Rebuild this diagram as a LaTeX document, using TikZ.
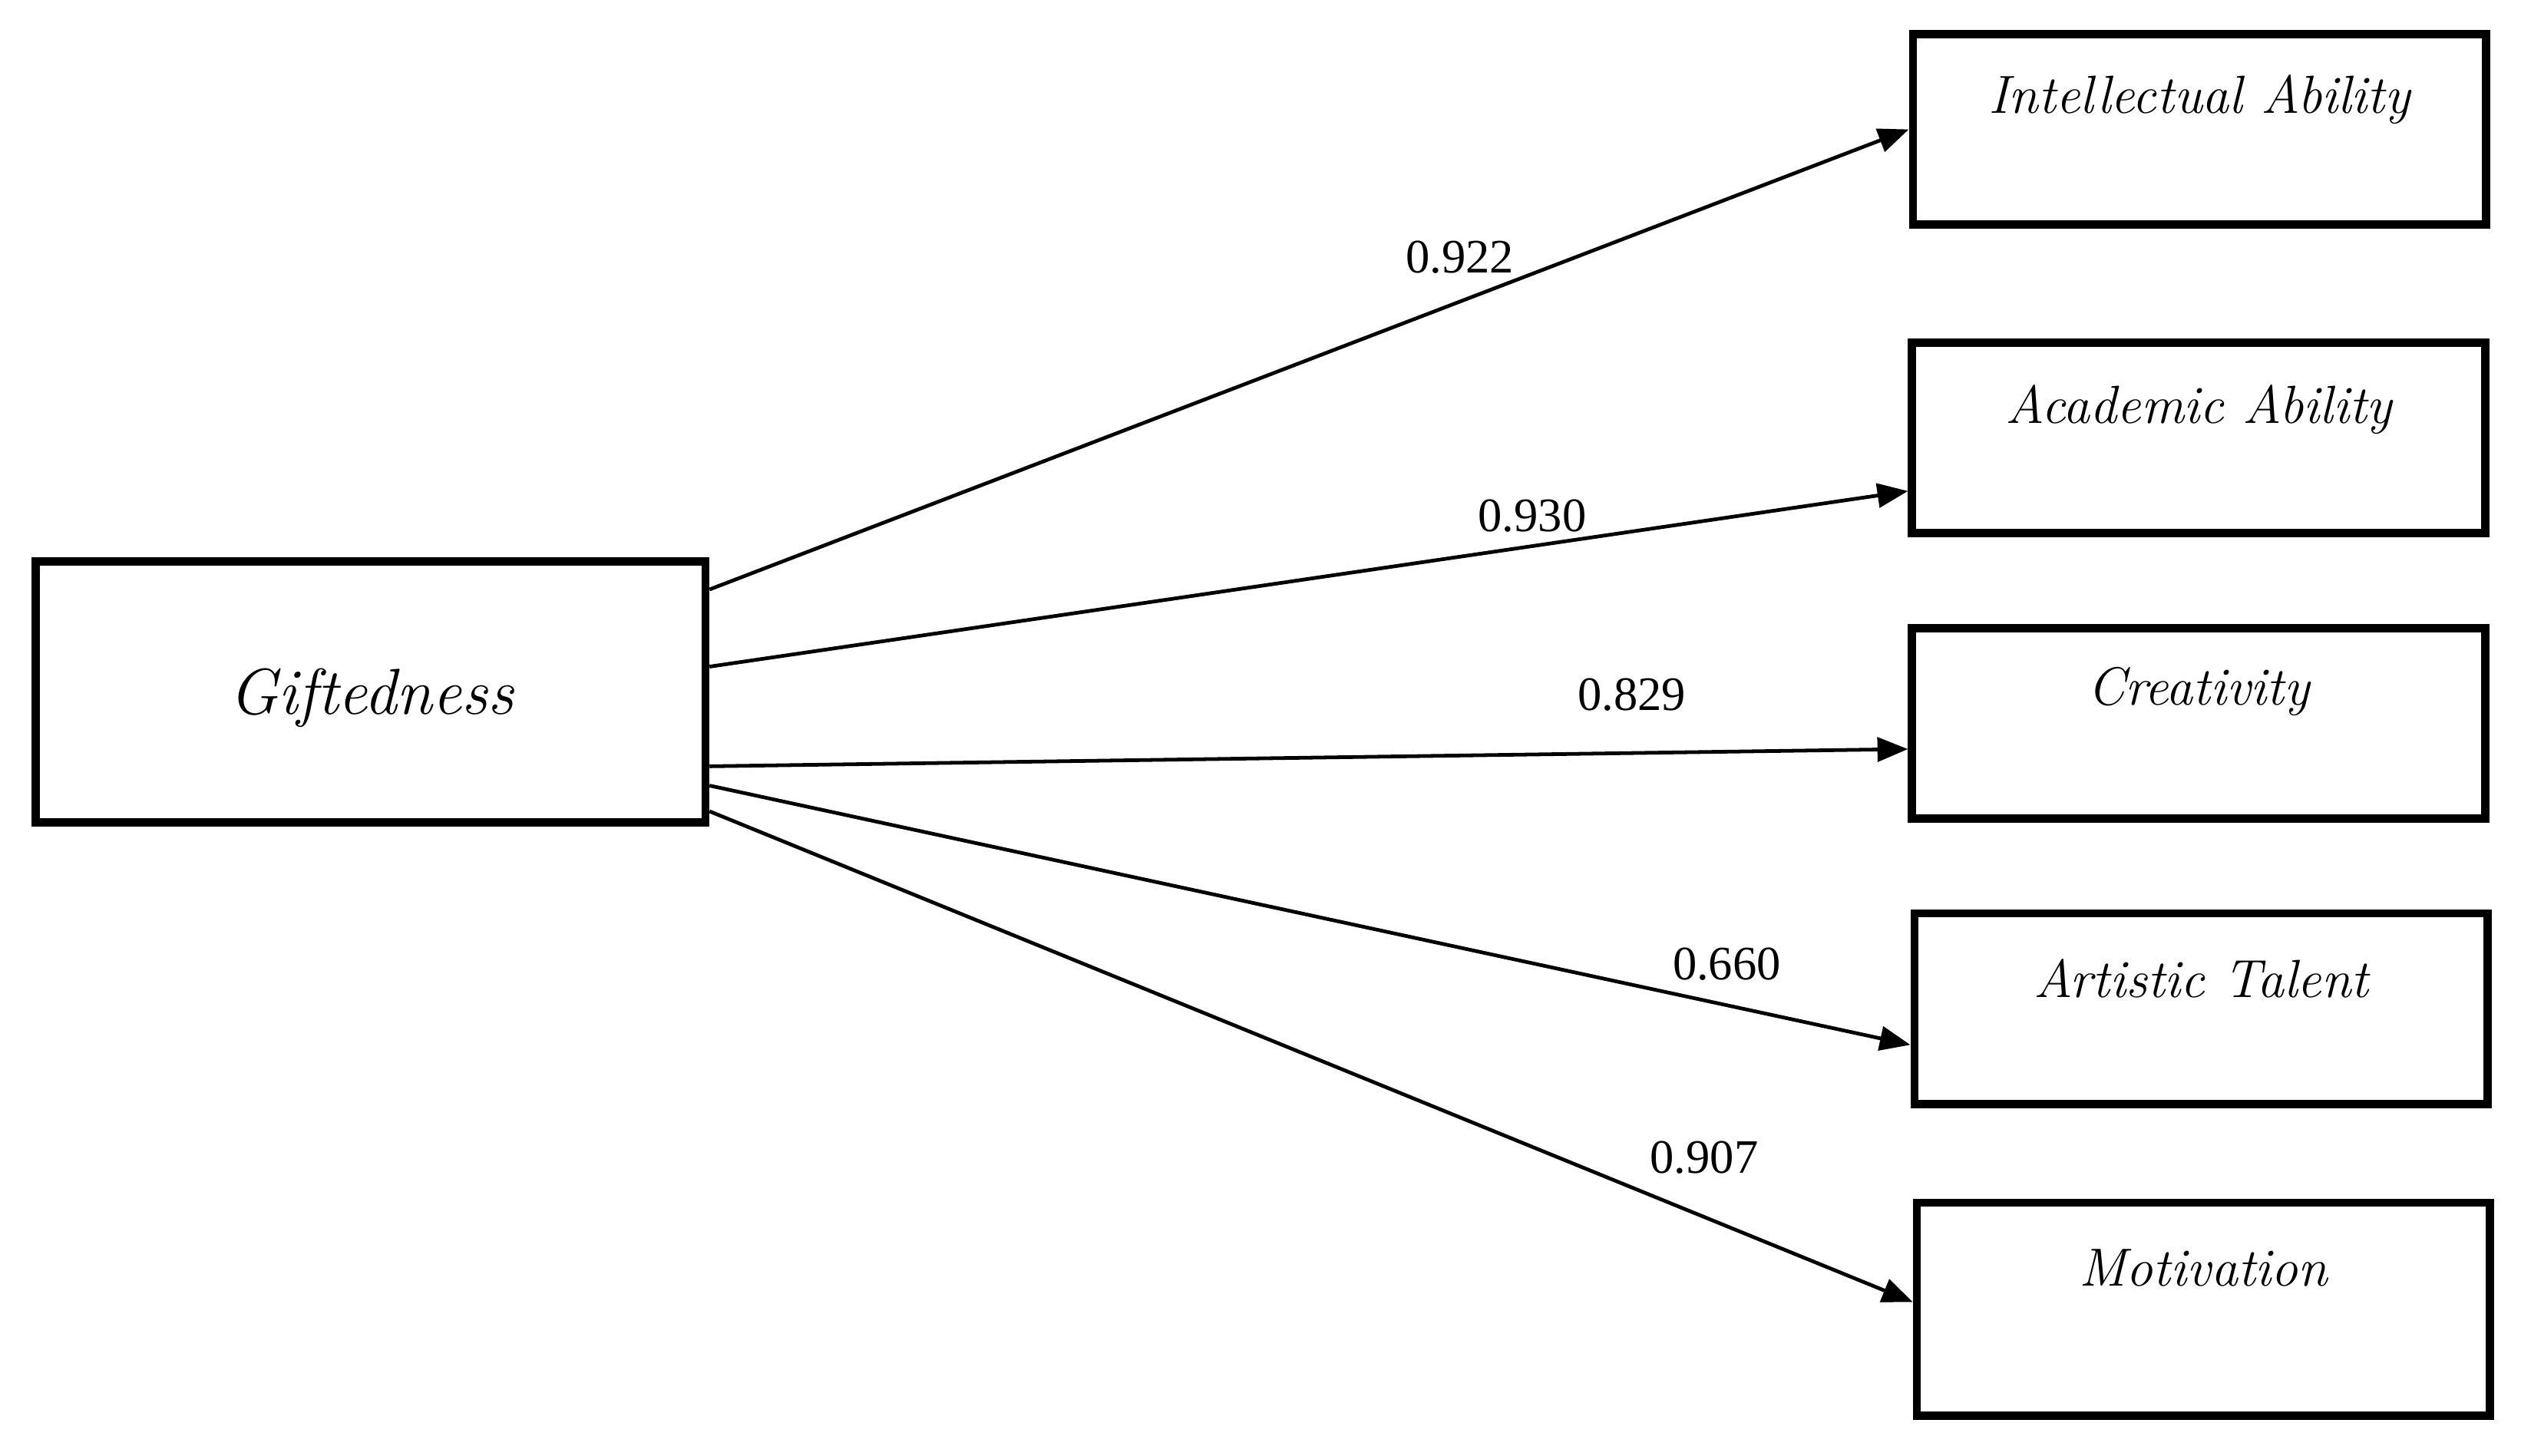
\documentclass[tikz,border=0pt]{standalone}
\usepackage{fontspec}
\usetikzlibrary{arrows.meta,positioning}
\newfontfamily\numfont{Liberation Serif}

\tikzset{
  factor/.style={draw, line width=2.9pt, inner sep=0pt, minimum width=7.13cm, minimum height=2.37cm},
  factortext/.style={font=\fontsize{19}{22}\selectfont\itshape, inner sep=0pt},
  loading/.style={font=\numfont\fontsize{17}{20}\selectfont, inner sep=0pt},
  path/.style={line width=1.3pt, -{Triangle[length=0.38cm,width=0.3cm]}}
}

\begin{document}
\begin{tikzpicture}
                \useasboundingbox (0,0) rectangle (31.36,18.106);

                % latent factor
                \node[factor, minimum width=8.33cm, minimum height=3.25cm] (gift) at (4.61,9.496) {};
                \node[factortext, font=\fontsize{23}{26}\selectfont\itshape] (gift-t) at (4.62,9.426) {Giftedness};

                % indicators
                \node[factor] (intel) at (27.36,16.496) {};
                \node[factor] (acad) at (27.35,12.656) {};
                \node[factor] (creat) at (27.35,9.106) {};
                \node[factor] (art) at (27.38,5.556) {};
                \node[factor, minimum height=2.65cm] (motiv) at (27.41,1.816) {};

                \node[factortext] (intel-t) at ([yshift=-0.86cm]intel.north) {Intellectual Ability};
                \node[factortext] (acad-t) at ([yshift=-0.88cm]acad.north) {Academic Ability};
                \node[factortext] (creat-t) at ([yshift=-0.84cm]creat.north) {Creativity};
                \node[factortext] (art-t) at ([yshift=-0.86cm]art.north) {Artistic Talent};
                \node[factortext] (motiv-t) at ([yshift=-0.86cm]motiv.north) {Motivation};

                % paths
                \draw[path] ([yshift=-0.40cm]gift.north east) -- (intel.west);
                \draw[path] ([yshift=-1.36cm]gift.north east) -- ([yshift=-0.66cm]acad.west);
                \draw[path] ([yshift=-2.60cm]gift.north east) -- ([yshift=-0.32cm]creat.west);
                \draw[path] ([yshift=-2.84cm]gift.north east) -- ([yshift=-0.45cm]art.west);
                \draw[path] ([yshift=-3.16cm]gift.north east) -- ([yshift=0.09cm]motiv.west);

                % loadings
                \node[loading] (l-intel) at (18.16,14.906) {0.922};
                \node[loading] (l-acad) at (19.06,11.686) {0.930};
                \node[loading] (l-creat) at (20.30,9.466) {0.829};
                \node[loading] (l-art) at (21.48,6.106) {0.660};
                \node[loading] (l-motiv) at (21.20,3.706) {0.907};
\end{tikzpicture}
\end{document}
